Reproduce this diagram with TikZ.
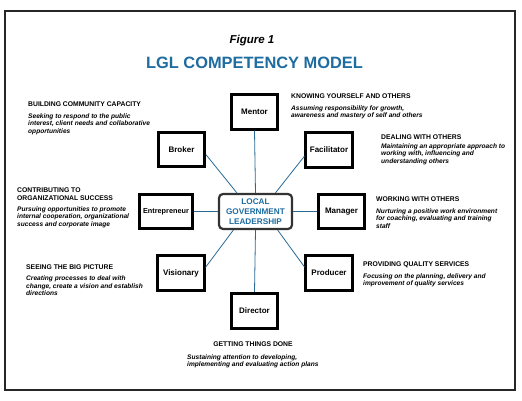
\documentclass[tikz,border=0pt]{standalone}
\usepackage{fontspec}
\setmainfont{Liberation Sans}
\definecolor{lglblue}{RGB}{30,108,160}
\definecolor{linkblue}{RGB}{40,105,150}
\begin{document}
\begin{tikzpicture}[x=1pt,y=-1pt,
  rolebox/.style={draw=black,line width=2.6pt,fill=white,inner sep=0pt,
    minimum width=46.5pt,minimum height=34.5pt,
    font={\fontsize{8}{9}\selectfont\bfseries}},
  hubbox/.style={draw=black!80,line width=2.2pt,rounded corners=4pt,fill=white,inner sep=0pt,
    minimum width=73pt,minimum height=35pt,align=center,text=lglblue,
    font={\fontsize{8.2}{10}\selectfont\bfseries}},
  link/.style={draw=linkblue,line width=0.8pt},
  headtxt/.style={inner sep=0pt,align=left,
    font={\fontsize{6.8}{7.7}\selectfont\bfseries}},
  desctxt/.style={inner sep=0pt,align=left,anchor=base west,
    font={\fontsize{6.6}{7.5}\selectfont\bfseries\itshape}}
  ]
\useasboundingbox[fill=white] (0,0) rectangle (522,401);
\draw[line width=1.3pt,black!85] (5,11) rectangle (515,390);

% title
\node[inner sep=0pt,anchor=base,font={\fontsize{11.5}{13}\selectfont\bfseries\itshape}] (fig) at (252,44) {Figure 1};
\node[inner sep=0pt,anchor=base,text=lglblue,font={\fontsize{16.4}{18}\selectfont\bfseries}] (title) at (254.5,68.3) {LGL COMPETENCY MODEL};

% boxes
\node[hubbox] (hub) at (255.5,211.5) {LOCAL\\GOVERNMENT\\LEADERSHIP};
\node[rolebox] (mentor) at (254.5,112) {Mentor};
\node[rolebox] (broker) at (181.5,149.5) {Broker};
\node[rolebox] (facil) at (329,150) {Facilitator};
\node[rolebox,minimum width=53.5pt,font={\fontsize{7.3}{9}\selectfont\bfseries}] (entre) at (166,211.5) {Entrepreneur};
\node[rolebox] (manager) at (341.5,211.5) {Manager};
\node[rolebox,minimum height=35.5pt] (vision) at (181,273) {Visionary};
\node[rolebox,minimum height=35.5pt] (producer) at (329,273) {Producer};
\node[rolebox,minimum height=35.5pt] (director) at (254.5,311) {Director};

% links
\path[link] (mentor.south) -- (hub.north);
\path[link] (director.north) -- (hub.south);
\path[link] (entre.east) -- (hub.west);
\path[link] (manager.west) -- (hub.east);
\path[link] (broker.-12) -- (hub.135);
\path[link] (facil.194) -- (hub.43);
\path[link] (vision.13) -- (hub.220);
\path[link] (producer.166) -- (hub.-40);

% texts (base anchor = baseline of the last line)
\node[headtxt,anchor=west] (h1) at (28,104) {BUILDING COMMUNITY CAPACITY};
\node[desctxt] (d1) at (28,133.3) {Seeking to respond to the public\\interest, client needs and collaborative\\opportunities};

\node[headtxt,anchor=west] (h2) at (291,96) {KNOWING YOURSELF AND OTHERS};
\node[desctxt] (d2) at (291,117.8) {Assuming responsibility for growth,\\awareness and mastery of self and others};

\node[headtxt,anchor=west] (h3) at (381,137) {DEALING WITH OTHERS};
\node[desctxt] (d3) at (381,163.3) {Maintaining an appropriate approach to\\working with, influencing and\\understanding others};

\node[headtxt,anchor=base west] (h4) at (17,200.1) {CONTRIBUTING TO\\ORGANIZATIONAL SUCCESS};
\node[desctxt] (d4) at (17,226.3) {Pursuing opportunities to promote\\internal cooperation, organizational\\success and corporate image};

\node[headtxt,anchor=west] (h5) at (376,199) {WORKING WITH OTHERS};
\node[desctxt] (d5) at (376,228.3) {Nurturing a positive work environment\\for coaching, evaluating and training\\staff};

\node[headtxt,anchor=west] (h6) at (26,266.7) {SEEING THE BIG PICTURE};
\node[desctxt] (d6) at (26,295.6) {Creating processes to deal with\\change, create a vision and establish\\directions};

\node[headtxt,anchor=west] (h7) at (363,264.3) {PROVIDING QUALITY SERVICES};
\node[desctxt] (d7) at (363,285.5) {Focusing on the planning, delivery and\\improvement of quality services};

\node[headtxt,anchor=center] (h8) at (253,344.5) {GETTING THINGS DONE};
\node[desctxt] (d8) at (187,366.5) {Sustaining attention to developing,\\implementing and evaluating action plans};
\end{tikzpicture}
\end{document}
